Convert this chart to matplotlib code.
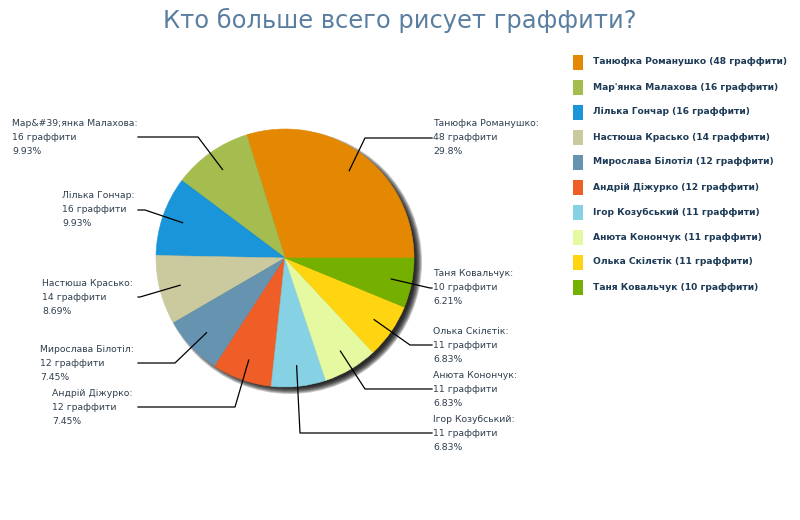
import matplotlib.pyplot as plt
from matplotlib.patches import Circle, Rectangle
import numpy as np

names = ['Танюфка Романушко', "Мар'янка Малахова", 'Лілька Гончар', 'Настюша Красько',
         'Мирослава Білотіл', 'Андрій Діжурко', 'Ігор Козубський', 'Анюта Конончук',
         'Олька Скілєтік', 'Таня Ковальчук']
counts = [48, 16, 16, 14, 12, 12, 11, 11, 11, 10]
percents = ['29.8', '9.93', '9.93', '8.69', '7.45', '7.45', '6.83', '6.83', '6.83', '6.21']
pie_names = ['Танюфка Романушко', 'Мар&#39;янка Малахова', 'Лілька Гончар', 'Настюша Красько',
             'Мирослава Білотіл', 'Андрій Діжурко', 'Ігор Козубський', 'Анюта Конончук',
             'Олька Скілєтік', 'Таня Ковальчук']
colors = ['#E48701', '#A5BC4E', '#1B95D9', '#CACA9E', '#6693B0',
          '#F05E27', '#86D1E4', '#E4F9A0', '#FFD512', '#75B000']

# label layout: (text x, middle line y, elbow x) in pixel coords
label_pos = [(433, 138, 365), (12, 137, 198), (62, 210, 145), (42, 297, 140),
             (40, 363, 175), (52, 407, 235), (433, 433, 300), (433, 389, 365),
             (433, 345, 410), (433, 288, 430)]

cx, cy, r = 285, 258, 129
text_col = '#2E3E4E'

fig = plt.figure(figsize=(8, 5.2), dpi=100)
ax = fig.add_axes([0, 0, 1, 1])

# soft shadow, lower right
for k in range(7):
    ax.add_patch(Circle((cx + 5, cy + 4), r + 3 - k, color='black', alpha=0.22, lw=0, zorder=1))

wedges, _ = ax.pie(counts, colors=colors, center=(cx, cy), radius=r, startangle=0,
                   counterclock=False, wedgeprops=dict(linewidth=0.4), frame=True)
for w in wedges:
    w.set_zorder(2)
    w.set_edgecolor(w.get_facecolor())
ax.set_xlim(0, 800)
ax.set_ylim(520, 0)
ax.set_aspect('equal')
ax.axis('off')

for w, nm, c, p, (tx, ty, ex) in zip(wedges, pie_names, counts, percents, label_pos):
    mid = np.deg2rad((w.theta1 + w.theta2) / 2)
    sx = cx + 0.84 * r * np.cos(mid)
    sy = cy + 0.84 * r * np.sin(mid)
    end_x = 432 if tx > cx else 138
    ax.plot([sx, ex, end_x], [sy, ty, ty], color='black', lw=0.9, zorder=3)
    lines = [nm + ':', f'{c} граффити', p + '%']
    for i, s in enumerate(lines):
        ax.text(tx, ty + (i - 1) * 14, s, fontsize=6.7, color=text_col,
                va='center', ha='left', zorder=4)

# legend
for i, (nm, c, col) in enumerate(zip(names, counts, colors)):
    y = 62 + i * 25
    ax.add_patch(Rectangle((573, y - 7), 10, 15, color=col, lw=0))
    ax.text(593, y, f'{nm} ({c} граффити)', fontsize=6.6, fontweight='bold',
            color='#1D3A56', va='center', ha='left')

ax.text(400, 20, 'Кто больше всего рисует граффити?', fontsize=17.4, color='#5A7EA0',
        ha='center', va='center')

fig.savefig('out.png', dpi=100)
